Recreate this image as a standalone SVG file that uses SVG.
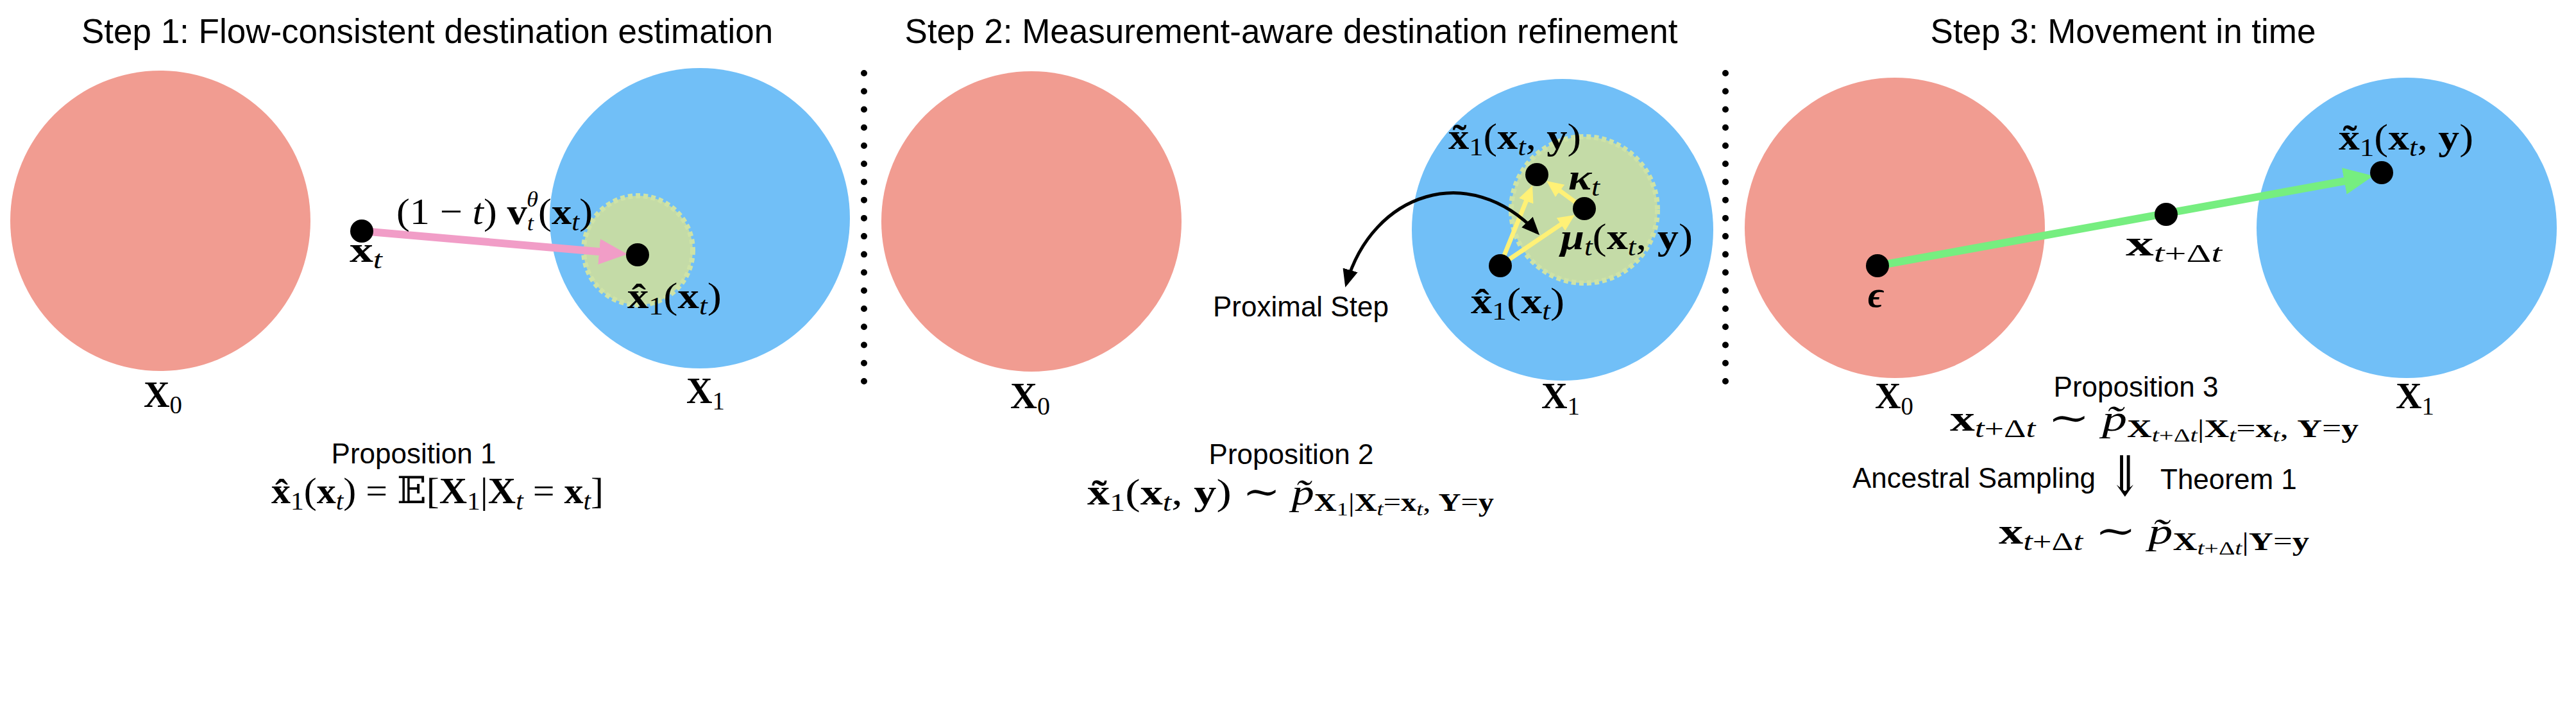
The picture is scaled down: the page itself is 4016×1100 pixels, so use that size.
<svg xmlns="http://www.w3.org/2000/svg" width="4016" height="1100" viewBox="0 0 4016 1100">
<style>
.title{font-family:"Liberation Sans",Arial,sans-serif;font-size:53px;fill:#000;text-anchor:middle}
.lbl{font-family:"Liberation Sans",Arial,sans-serif;font-size:44px;fill:#000}
.m{font-family:"Liberation Serif","DejaVu Serif",serif;font-size:58px;fill:#000}
.b{font-weight:bold}
.i{font-style:italic}
.bi{font-weight:bold;font-style:italic}
.s{font-size:40px}
.ss{font-size:30px}
.bb{font-family:"DejaVu Serif","DejaVu Sans",serif}
.red{fill:#f19c91}
.blue{fill:#71bff7}
.blob{fill:#c4dba7;stroke:#cfe3a6;stroke-width:8;stroke-dasharray:7 5}
.dot{fill:#000}
.sep{stroke:#000;stroke-width:10;stroke-linecap:round;stroke-dasharray:0 28.235;fill:none}
</style>
<defs>
<marker id="ahPink" markerUnits="userSpaceOnUse" markerWidth="44" markerHeight="40" refX="22" refY="20" orient="auto" viewBox="0 0 44 40"><path d="M0,0 L44,20 L0,40 z" fill="#f19dc7"/></marker>
<marker id="ahGreen" markerUnits="userSpaceOnUse" markerWidth="46" markerHeight="42" refX="23" refY="21" orient="auto" viewBox="0 0 46 42"><path d="M0,0 L46,21 L0,42 z" fill="#76ee80"/></marker>
<marker id="ahYellow" markerUnits="userSpaceOnUse" markerWidth="26" markerHeight="24" refX="13" refY="12" orient="auto" viewBox="0 0 26 24"><path d="M0,0 L26,12 L0,24 z" fill="#fff176"/></marker>
<marker id="ahBlack" markerUnits="userSpaceOnUse" markerWidth="28" markerHeight="24" refX="22" refY="12" orient="auto-start-reverse" viewBox="0 0 28 24"><path d="M0,0 L28,12 L0,24 z" fill="#000"/></marker>
</defs>
<rect width="4016" height="1100" fill="#fff"/>

<g id="titles">
<text class="title" x="666" y="67">Step 1: Flow-consistent destination estimation</text>
<text class="title" x="2013" y="67">Step 2: Measurement-aware destination refinement</text>
<text class="title" x="3310" y="67">Step 3: Movement in time</text>
</g>

<g id="separators">
<line class="sep" x1="1347" y1="114" x2="1347" y2="594"/>
<line class="sep" x1="2690" y1="114" x2="2690" y2="594"/>
</g>

<!-- Panel 1 -->
<g id="p1-X0">
<circle class="red" cx="250" cy="344" r="234"/>
<text class="m" x="224" y="634" textLength="60" lengthAdjust="spacingAndGlyphs"><tspan class="b">X</tspan><tspan class="s" dy="10">0</tspan></text>
</g>
<g id="p1-X1">
<circle class="blue" cx="1091" cy="340" r="234"/>
<circle class="blob" cx="995" cy="390" r="85"/>
<text class="m" x="1070" y="628" textLength="60" lengthAdjust="spacingAndGlyphs"><tspan class="b">X</tspan><tspan class="s" dy="10">1</tspan></text>
</g>

<!-- Panel 2 -->
<g id="p2-X0">
<circle class="red" cx="1608" cy="345" r="234"/>
<text class="m" x="1575" y="636" textLength="62" lengthAdjust="spacingAndGlyphs"><tspan class="b">X</tspan><tspan class="s" dy="10">0</tspan></text>
</g>
<g id="p2-X1">
<circle class="blue" cx="2436" cy="358" r="235"/>
<circle class="blob" cx="2470" cy="327" r="114"/>
<text class="m" x="2403" y="636" textLength="60" lengthAdjust="spacingAndGlyphs"><tspan class="b">X</tspan><tspan class="s" dy="10">1</tspan></text>
</g>

<!-- Panel 3 -->
<g id="p3-X0">
<circle class="red" cx="2954" cy="355" r="234"/>
<text class="m" x="2923" y="636" textLength="60" lengthAdjust="spacingAndGlyphs"><tspan class="b">X</tspan><tspan class="s" dy="10">0</tspan></text>
</g>
<g id="p3-X1">
<circle class="blue" cx="3752" cy="355" r="234"/>
<text class="m" x="3735" y="636" textLength="60" lengthAdjust="spacingAndGlyphs"><tspan class="b">X</tspan><tspan class="s" dy="10">1</tspan></text>
</g>

<g id="connectors">
<line x1="564" y1="360" x2="956" y2="394" stroke="#f19dc7" stroke-width="12" marker-end="url(#ahPink)"/>
<line x1="2345" y1="398" x2="2384.2" y2="301.1" stroke="#fff176" stroke-width="7" marker-end="url(#ahYellow)"/>
<line x1="2353" y1="404" x2="2444.2" y2="342.3" stroke="#fff176" stroke-width="7" marker-end="url(#ahYellow)"/>
<line x1="2456" y1="315" x2="2421.6" y2="289.6" stroke="#fff176" stroke-width="7" marker-end="url(#ahYellow)"/>
<path d="M2099,442 C2140,300 2290,250 2396,362" fill="none" stroke="#000" stroke-width="5" marker-start="url(#ahBlack)" marker-end="url(#ahBlack)"/>
<line x1="2927" y1="414" x2="3677.4" y2="278.1" stroke="#76ee80" stroke-width="12" marker-end="url(#ahGreen)"/>
</g>

<!-- Points panel 1 -->
<g id="p1-xt">
<circle class="dot" cx="564" cy="360" r="18"/>
<text class="m" x="545" y="408" textLength="51" lengthAdjust="spacingAndGlyphs"><tspan class="b">x</tspan><tspan class="s i" dy="10">t</tspan></text>
</g>
<g id="p1-x1hat">
<circle class="dot" cx="994" cy="397" r="18"/>
<text class="m" x="978" y="480" textLength="147" lengthAdjust="spacingAndGlyphs"><tspan class="b">x̂</tspan><tspan class="s" dy="10">1</tspan><tspan dy="-10">(</tspan><tspan class="b">x</tspan><tspan class="s i" dy="10">t</tspan><tspan dy="-10">)</tspan></text>
</g>
<g id="p1-velocity-label">
<text class="m" x="618" y="349" textLength="306" lengthAdjust="spacingAndGlyphs">(1 − <tspan class="i">t</tspan>) <tspan class="b">v</tspan><tspan class="i" font-size="34" dy="10">t</tspan><tspan class="i" font-size="34" dx="-10" dy="-37">θ</tspan><tspan dy="27">(</tspan><tspan class="b">x</tspan><tspan class="s i" dy="10">t</tspan><tspan dy="-10">)</tspan></text>
</g>
<g id="p1-prop">
<text class="lbl" x="645" y="722" text-anchor="middle">Proposition 1</text>
<text class="m" x="423" y="784" textLength="518" lengthAdjust="spacingAndGlyphs"><tspan class="b">x̂</tspan><tspan class="s" dy="10">1</tspan><tspan dy="-10">(</tspan><tspan class="b">x</tspan><tspan class="s i" dy="10">t</tspan><tspan dy="-10">) = </tspan><tspan class="bb">𝔼</tspan><tspan>[</tspan><tspan class="b">X</tspan><tspan class="s" dy="10">1</tspan><tspan dy="-10">|</tspan><tspan class="b">X</tspan><tspan class="s i" dy="10">t</tspan><tspan dy="-10"> = </tspan><tspan class="b">x</tspan><tspan class="s i" dy="10">t</tspan><tspan dy="-10">]</tspan></text>
</g>

<!-- Points panel 2 -->
<g id="p2-x1tilde">
<circle class="dot" cx="2396" cy="272" r="18"/>
<text class="m" x="2258" y="232" textLength="207" lengthAdjust="spacingAndGlyphs"><tspan class="b">x̃</tspan><tspan class="s" dy="10">1</tspan><tspan dy="-10">(</tspan><tspan class="b">x</tspan><tspan class="s i" dy="10">t</tspan><tspan dy="-10">, </tspan><tspan class="b">y</tspan>)</text>
</g>
<g id="p2-mu">
<circle class="dot" cx="2470" cy="325" r="18"/>
<text class="m" x="2445" y="295" textLength="49" lengthAdjust="spacingAndGlyphs"><tspan class="bi">κ</tspan><tspan class="s i" dy="10">t</tspan></text>
<text class="m" x="2433" y="388" textLength="206" lengthAdjust="spacingAndGlyphs"><tspan class="bi">μ</tspan><tspan class="s i" dy="10">t</tspan><tspan dy="-10">(</tspan><tspan class="b">x</tspan><tspan class="s i" dy="10">t</tspan><tspan dy="-10">, </tspan><tspan class="b">y</tspan>)</text>
</g>
<g id="p2-x1hat">
<circle class="dot" cx="2339" cy="414" r="18"/>
<text class="m" x="2293" y="488" textLength="146" lengthAdjust="spacingAndGlyphs"><tspan class="b">x̂</tspan><tspan class="s" dy="10">1</tspan><tspan dy="-10">(</tspan><tspan class="b">x</tspan><tspan class="s i" dy="10">t</tspan><tspan dy="-10">)</tspan></text>
</g>
<g id="p2-proximal">
<text class="lbl" x="1891" y="493">Proximal Step</text>
</g>
<g id="p2-prop">
<text class="lbl" x="2013" y="723" text-anchor="middle">Proposition 2</text>
<text class="m" x="1695" y="786" textLength="634" lengthAdjust="spacingAndGlyphs"><tspan class="b">x̃</tspan><tspan class="s" dy="10">1</tspan><tspan dy="-10">(</tspan><tspan class="b">x</tspan><tspan class="s i" dy="10">t</tspan><tspan dy="-10">, </tspan><tspan class="b">y</tspan>) ∼ <tspan class="i">p̃</tspan><tspan class="s b" dy="10">X</tspan><tspan class="ss" dy="7">1</tspan><tspan class="s" dy="-7">|</tspan><tspan class="s b">X</tspan><tspan class="ss i" dy="7">t</tspan><tspan class="s" dy="-7">=</tspan><tspan class="s b">x</tspan><tspan class="ss i" dy="7">t</tspan><tspan class="s" dy="-7">, </tspan><tspan class="s b">Y</tspan><tspan class="s">=</tspan><tspan class="s b">y</tspan></text>
</g>

<!-- Points panel 3 -->
<g id="p3-eps">
<circle class="dot" cx="2927" cy="414" r="18"/>
<text class="m" x="2912" y="478"><tspan class="bi">ϵ</tspan></text>
</g>
<g id="p3-xtdt">
<circle class="dot" cx="3377" cy="334" r="18"/>
<text class="m" x="3314" y="398" textLength="150" lengthAdjust="spacingAndGlyphs"><tspan class="b">x</tspan><tspan class="s" dy="10"><tspan class="i">t</tspan>+Δ<tspan class="i">t</tspan></tspan></text>
</g>
<g id="p3-x1tilde">
<circle class="dot" cx="3713" cy="269" r="18"/>
<text class="m" x="3646" y="233" textLength="210" lengthAdjust="spacingAndGlyphs"><tspan class="b">x̃</tspan><tspan class="s" dy="10">1</tspan><tspan dy="-10">(</tspan><tspan class="b">x</tspan><tspan class="s i" dy="10">t</tspan><tspan dy="-10">, </tspan><tspan class="b">y</tspan>)</text>
</g>
<g id="p3-prop">
<text class="lbl" x="3330" y="618" text-anchor="middle">Proposition 3</text>
<text class="m" x="3040" y="671" textLength="637" lengthAdjust="spacingAndGlyphs"><tspan class="b">x</tspan><tspan class="s" dy="10"><tspan class="i">t</tspan>+Δ<tspan class="i">t</tspan></tspan><tspan dy="-10"> ∼ </tspan><tspan class="i">p̃</tspan><tspan class="s b" dy="10">X</tspan><tspan class="ss" dy="7"><tspan class="i">t</tspan>+Δ<tspan class="i">t</tspan></tspan><tspan class="s" dy="-7">|</tspan><tspan class="s b">X</tspan><tspan class="ss i" dy="7">t</tspan><tspan class="s" dy="-7">=</tspan><tspan class="s b">x</tspan><tspan class="ss i" dy="7">t</tspan><tspan class="s" dy="-7">, </tspan><tspan class="s b">Y</tspan><tspan class="s">=</tspan><tspan class="s b">y</tspan></text>
<text class="lbl" x="2888" y="760">Ancestral Sampling</text>
<text x="0" y="0" text-anchor="middle" font-family="DejaVu Serif, serif" font-size="62" transform="translate(3313,772) scale(1,1.4)">⇓</text>
<text class="lbl" x="3368" y="762">Theorem 1</text>
<text class="m" x="3116" y="847" textLength="484" lengthAdjust="spacingAndGlyphs"><tspan class="b">x</tspan><tspan class="s" dy="10"><tspan class="i">t</tspan>+Δ<tspan class="i">t</tspan></tspan><tspan dy="-10"> ∼ </tspan><tspan class="i">p̃</tspan><tspan class="s b" dy="10">X</tspan><tspan class="ss" dy="7"><tspan class="i">t</tspan>+Δ<tspan class="i">t</tspan></tspan><tspan class="s" dy="-7">|</tspan><tspan class="s b">Y</tspan><tspan class="s">=</tspan><tspan class="s b">y</tspan></text>
</g>
</svg>
